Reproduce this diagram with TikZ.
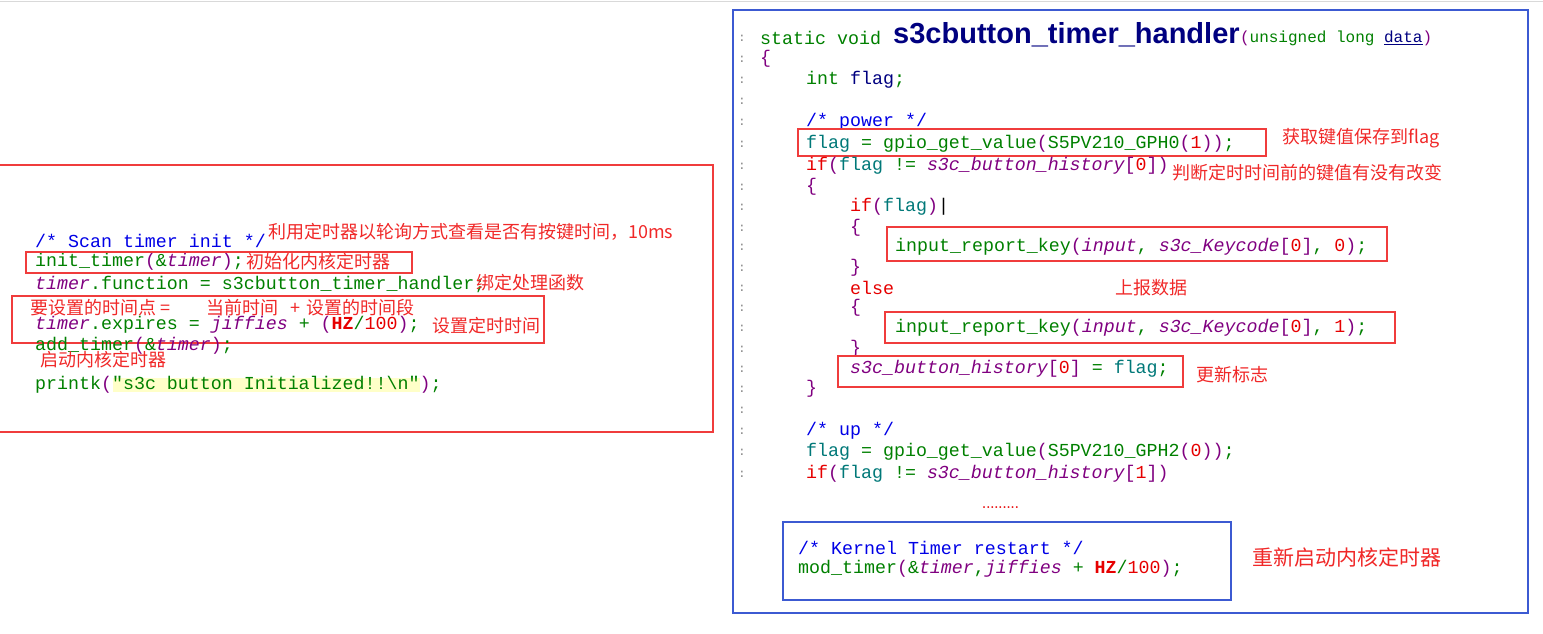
\documentclass[tikz,border=0pt]{standalone}
\usepackage{fontspec}
\setmonofont{Liberation Mono}
\newfontfamily\cjk{Noto Sans CJK SC}
\newfontfamily\hsans{Liberation Sans}
\usepackage{xcolor}
\definecolor{cgreen}{RGB}{0,128,0}
\definecolor{cnavy}{RGB}{0,0,128}
\definecolor{cteal}{RGB}{0,120,120}
\definecolor{cpurp}{RGB}{128,0,128}
\definecolor{cred}{RGB}{230,0,0}
\definecolor{cblue}{RGB}{0,0,230}
\definecolor{anno}{RGB}{240,40,40}
\definecolor{boxred}{RGB}{240,60,60}
\definecolor{boxblue}{RGB}{60,90,210}
\definecolor{hl}{RGB}{255,255,200}
\newcommand\kG[1]{{\color{cgreen}\relax#1}}
\newcommand\kN[1]{{\color{cnavy}\relax#1}}
\newcommand\kT[1]{{\color{cteal}\relax#1}}
\newcommand\kP[1]{{\color{cpurp}\relax#1}}
\newcommand\kR[1]{{\color{cred}\relax#1}}
\newcommand\kB[1]{{\color{cblue}\relax#1}}
\newcommand\kI[1]{{\color{cpurp}\itshape\relax#1}}
\begin{document}
\begin{tikzpicture}[x=1pt,y=-1pt,
  code/.style={anchor=west,inner sep=0pt,font=\ttfamily\fontsize{18.3}{20}\selectfont},
  note/.style={anchor=west,inner sep=0pt,text=anno,font=\cjk\fontsize{18}{20}\selectfont},
  rbox/.style={draw=boxred,line width=2pt},
  bbox/.style={draw=boxblue,line width=2.5pt},
  colon/.style={anchor=center,inner sep=0pt,text=gray,font=\ttfamily\fontsize{12}{12}\selectfont}]
\useasboundingbox (0,0) rectangle (1543,633);
\draw[gray!30,line width=1pt] (0,1) -- (1543,1);
% left panel
\draw[rbox] (-2,165) rectangle (713,432);
\node[code] (l1) at (35,241) {\kB{/* Scan timer init */}};
\node[note] (n1) at (268,232) {利用定时器以轮询方式查看是否有按键时间，10ms};
\node[code] (l2) at (35,262) {\kG{init\_timer}\kP{(}\kG{\&}\kI{timer}\kP{)}\kG{;}};
\node[note] (n2) at (246,262) {初始化内核定时器};
\draw[rbox] (26,252) rectangle (412,273);
\node[code] (l3) at (35,284) {\kI{timer}\kG{.function = s3cbutton\_timer\_handler;}};
\node[note] (n3) at (476,283) {绑定处理函数};
\node[code] (l4) at (35,325) {\kI{timer}\kG{.expires = }\kI{jiffies}\kG{ + }\kP{(}\kR{\bfseries HZ}\kG{/}\kR{100}\kP{)}\kG{;}};
\node[note] (n4) at (30,308) {要设置的时间点 =\hspace{36pt}当前时间\hspace{12pt}+\hspace{6pt}设置的时间段};
\node[note] (n5) at (432,326) {设置定时时间};
\draw[rbox] (12,296) rectangle (544,343);
\node[code] (l5) at (35,346) {\kG{add\_timer}\kP{(}\kG{\&}\kI{timer}\kP{)}\kG{;}};
\node[note] (n6) at (40,360) {启动内核定时器};
\node[code,fill=hl] (l6hl) at (112.5,385) {\phantom{"s3c button Initialized!!\textbackslash n"}};
\node[code] (l6) at (35,385) {\kG{printk}\kP{(}\kG{"s3c button Initialized!!\textbackslash n"}\kP{)}\kG{;}};
% right panel
\draw[bbox] (733,10) rectangle (1528,613);
\foreach \yy in {38,59,80,101,122,144,166,187,207,228,247,268,288,308,328,349,369,389,410,431,452,474}
  \node[colon] at (742,\yy) {:};
\node[code] (r0) at (760,38) {\kG{static void }};
\node[anchor=west,inner sep=0pt,text=cnavy,font=\hsans\bfseries\fontsize{29}{30}\selectfont] (fn) at (893,35) {s3cbutton\_timer\_handler};
\node[code,font=\ttfamily\fontsize{16}{18}\selectfont] (r0b) at (fn.east) [anchor=west,yshift=-3pt] {\kP{(}\kG{unsigned long }\kN{\underline{data}}\kP{)}};
\node[code] (r1) at (760,59) {\kP{\{}};
\node[code] (r2) at (806,80) {\kG{int }\kN{flag}\kG{;}};
\node[code] (r3) at (806,122) {\kB{/* power */}};
\node[code] (r4) at (806,144) {\kT{flag}\kG{ = gpio\_get\_value}\kP{(}\kG{S5PV210\_GPH0}\kP{(}\kR{1}\kP{))}\kG{;}};
\draw[rbox] (798,129) rectangle (1266,156);
\node[note] (a1) at (1282,138) {获取键值保存到flag};
\node[code] (r5) at (806,166) {\kR{if}\kP{(}\kT{flag}\kG{ != }\kI{s3c\_button\_history}\kP{[}\kR{0}\kP{])}};
\node[note] (a2) at (1172,173) {判断定时时间前的键值有没有改变};
\node[code] (r6) at (806,187) {\kP{\{}};
\node[code] (r7) at (850,207) {\kR{if}\kP{(}\kT{flag}\kP{)}{\color{black}|}};
\node[code] (r8) at (850,228) {\kP{\{}};
\node[code] (r9) at (895,247) {\kG{input\_report\_key}\kP{(}\kI{input}\kG{, }\kI{s3c\_Keycode}\kP{[}\kR{0}\kP{]}\kG{, }\kR{0}\kP{)}\kG{;}};
\draw[rbox] (887,227) rectangle (1387,261);
\node[code] (r10) at (850,268) {\kP{\}}};
\node[code] (r11) at (850,288) {\kR{else}};
\node[note] (a3) at (1115,288) {上报数据};
\node[code] (r12) at (850,308) {\kP{\{}};
\node[code] (r13) at (895,328) {\kG{input\_report\_key}\kP{(}\kI{input}\kG{, }\kI{s3c\_Keycode}\kP{[}\kR{0}\kP{]}\kG{, }\kR{1}\kP{)}\kG{;}};
\draw[rbox] (885,312) rectangle (1395,343);
\node[code] (r14) at (850,349) {\kP{\}}};
\node[code] (r15) at (850,369) {\kI{s3c\_button\_history}\kP{[}\kR{0}\kP{]}\kG{ = }\kT{flag}\kG{;}};
\draw[rbox] (838,356) rectangle (1183,387);
\node[note] (a4) at (1196,375) {更新标志};
\node[code] (r16) at (806,389) {\kP{\}}};
\node[code] (r17) at (806,431) {\kB{/* up */}};
\node[code] (r18) at (806,452) {\kT{flag}\kG{ = gpio\_get\_value}\kP{(}\kG{S5PV210\_GPH2}\kP{(}\kR{0}\kP{))}\kG{;}};
\node[code] (r19) at (806,474) {\kR{if}\kP{(}\kT{flag}\kG{ != }\kI{s3c\_button\_history}\kP{[}\kR{1}\kP{])}};
\node[anchor=west,inner sep=0pt,text=cred,font=\bfseries\fontsize{13}{13}\selectfont] (dots) at (982,508) {.........};
\draw[bbox] (783,522) rectangle (1231,600);
\node[code] (r20) at (798,548) {\kB{/* Kernel Timer restart */}};
\node[code] (r21) at (798,569) {\kG{mod\_timer}\kP{(}\kG{\&}\kI{timer}\kG{,}\kI{jiffies}\kG{ + }\kR{\bfseries HZ}\kG{/}\kR{100}\kP{)}\kG{;}};
\node[note,font=\cjk\fontsize{21}{23}\selectfont] (a5) at (1252,557) {重新启动内核定时器};
\end{tikzpicture}
\end{document}
